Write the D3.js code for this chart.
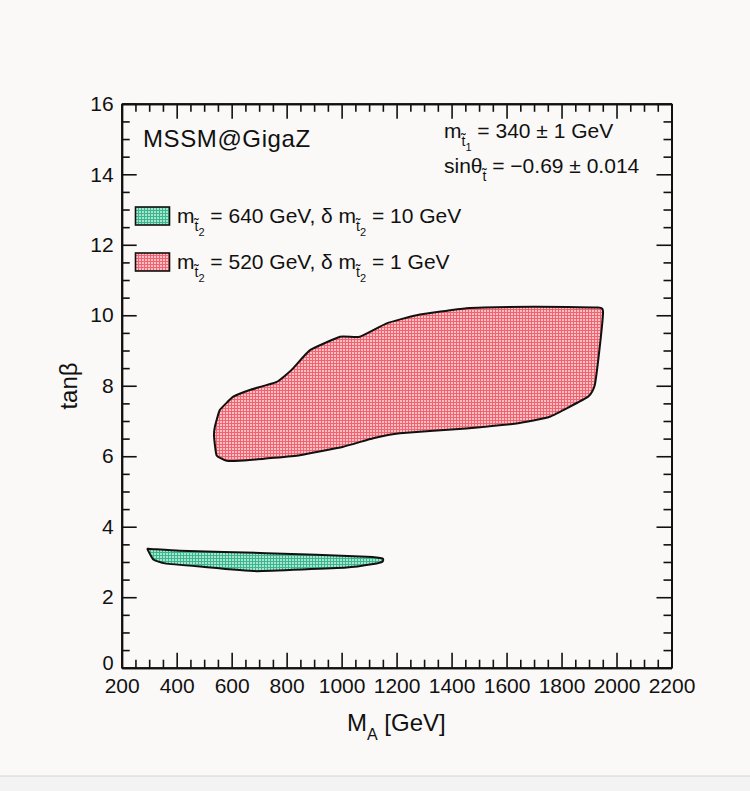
<!DOCTYPE html>
<html><head><meta charset="utf-8">
<script src="https://cdn.jsdelivr.net/npm/d3@7"></script>
<style>
body{margin:0;background:#faf9f7;}
svg{display:block;}
text{font-family:"Liberation Sans",Arial,Helvetica,sans-serif;fill:#111;}
</style></head>
<body><svg id="c" width="750" height="791"></svg>
<script>
// ---- data ----
const xDomain = [200, 2200];
const yDomain = [0, 16];
const xMajorTicks = [200,400,600,800,1000,1200,1400,1600,1800,2000,2200];
const yMajorTicks = [0,2,4,6,8,10,12,14,16];
// region m_t2 = 520 GeV (red)
const redX = [539,557,606,666,764,818,885,994,1066,1164,1273,1454,1697,1933,1951,1939,1921,1897,1757,1636,1454,1212,1115,1006,848,666,582,545,536];
const redY = [6.84,7.31,7.69,7.88,8.11,8.45,9.01,9.39,9.39,9.77,10.0,10.2,10.24,10.22,10.1,9.1,8.02,7.69,7.12,6.93,6.79,6.65,6.51,6.27,6.03,5.89,5.87,6.03,6.55];
// region m_t2 = 640 GeV (green)
const greenX = [294,315,357,485,691,1018,1115,1149,1149,1091,727,412,303];
const greenY = [3.36,3.07,2.96,2.87,2.74,2.84,2.94,3.01,3.10,3.15,3.25,3.32,3.37];

const svg = d3.select("#c");
const L=121.7, R=671.5, T=103.8, B=667.7;
const x = d3.scaleLinear().domain(xDomain).range([L,R]);
const y = d3.scaleLinear().domain(yDomain).range([B,T]);

// bottom strip of page
svg.append("rect").attr("x",0).attr("y",776).attr("width",750).attr("height",15).attr("fill","#f3f3f3");
svg.append("line").attr("x1",0).attr("x2",750).attr("y1",776).attr("y2",776).attr("stroke","#d6d4d0").attr("stroke-width",1);

// patterns
const defs = svg.append("defs");
function pat(id, bg, dot){
  const p = defs.append("pattern").attr("id",id).attr("patternUnits","userSpaceOnUse").attr("width",3).attr("height",3);
  p.append("rect").attr("width",3).attr("height",3).attr("fill",bg);
  p.append("rect").attr("x",1).attr("y",1).attr("width",2).attr("height",2).attr("fill",dot);
}
pat("pRed","#ef6470","#fbbfc4");
pat("pGreen","#3ab58d","#a8e4ce");

const line = d3.line().x(d=>x(d[0])).y(d=>y(d[1])).curve(d3.curveCardinalClosed.tension(0.6));
const red = redX.map((v,i)=>[v,redY[i]]);
const green = greenX.map((v,i)=>[v,greenY[i]]);
svg.append("path").attr("d",line(red)).attr("fill","url(#pRed)").attr("stroke","#111").attr("stroke-width",2).attr("stroke-linejoin","round");
svg.append("path").attr("d",line(green)).attr("fill","url(#pGreen)").attr("stroke","#111").attr("stroke-width",2).attr("stroke-linejoin","round");

// axes
const xMinor = d3.range(xDomain[0], xDomain[1]+1, 50).filter(v=>v%200!==0);
const yMinor = d3.range(yDomain[0], yDomain[1]+0.01, 0.5).filter(v=>v%2!==0);
function styleAxis(g){
  g.selectAll("path.domain").attr("stroke","#111").attr("stroke-width",2);
  g.selectAll(".tick line").attr("stroke","#111").attr("stroke-width",1.6);
  g.selectAll("text").style("font-family","'Liberation Sans',Arial,sans-serif").attr("fill","#111").style("font-size","21px");
}
// bottom
svg.append("g").attr("transform",`translate(0,${B})`)
  .call(d3.axisBottom(x).tickValues(xMinor).tickSize(-8).tickSizeOuter(0).tickFormat(""))
  .call(styleAxis);
svg.append("g").attr("transform",`translate(0,${B})`)
  .call(d3.axisBottom(x).tickValues(xMajorTicks).tickSize(-15).tickSizeOuter(0).tickPadding(10).tickFormat(d3.format("d")))
  .call(styleAxis);
// top
svg.append("g").attr("transform",`translate(0,${T})`)
  .call(d3.axisTop(x).tickValues(xMinor).tickSize(-8).tickSizeOuter(0).tickFormat(""))
  .call(styleAxis);
svg.append("g").attr("transform",`translate(0,${T})`)
  .call(d3.axisTop(x).tickValues(xMajorTicks).tickSize(-15).tickSizeOuter(0).tickFormat(""))
  .call(styleAxis);
// left
svg.append("g").attr("transform",`translate(${L},0)`)
  .call(d3.axisLeft(y).tickValues(yMinor).tickSize(-8).tickSizeOuter(0).tickFormat(""))
  .call(styleAxis);
svg.append("g").attr("transform",`translate(${L},0)`)
  .call(d3.axisLeft(y).tickValues(yMajorTicks).tickSize(-15).tickSizeOuter(0).tickPadding(8).tickFormat(d3.format("d")))
  .call(styleAxis)
  .call(g=>g.selectAll(".tick").filter(d=>d===0).select("text").attr("dy","0.1em").style("font-size","20px"));
// right
svg.append("g").attr("transform",`translate(${R},0)`)
  .call(d3.axisRight(y).tickValues(yMinor).tickSize(-8).tickSizeOuter(0).tickFormat(""))
  .call(styleAxis);
svg.append("g").attr("transform",`translate(${R},0)`)
  .call(d3.axisRight(y).tickValues(yMajorTicks).tickSize(-15).tickSizeOuter(0).tickFormat(""))
  .call(styleAxis);

// axis titles
const xt = svg.append("text").attr("x",347).attr("y",731).style("font-size","24px");
xt.append("tspan").text("M");
xt.append("tspan").attr("dy",9).style("font-size","16px").text("A");
xt.append("tspan").attr("dy",-9).text(" [GeV]");

svg.append("text").attr("transform","translate(77,386) rotate(-90)").attr("text-anchor","middle")
  .style("font-size","24px").text("tanβ");

// labels
svg.append("text").attr("x",143).attr("y",147).style("font-size","24px").style("letter-spacing","0.6px").text("MSSM@GigaZ");

function stopLabel(g, xx, yy, sub, rest){
  const t = g.append("text").attr("x",xx).attr("y",yy).style("font-size","21px");
  t.append("tspan").text("m");
  t.append("tspan").attr("dy",8).style("font-size","14px").text("t\u0303");
  t.append("tspan").attr("dy",5).style("font-size","11px").text(sub);
  t.append("tspan").attr("dy",-13).text(rest);
  return t;
}
// top right annotations
stopLabel(svg, 444, 138, "1", " = 340 ± 1 GeV");
const s2 = svg.append("text").attr("x",444).attr("y",173).style("font-size","21px");
s2.append("tspan").text("sinθ");
s2.append("tspan").attr("dy",8).style("font-size","14px").text("t\u0303");
s2.append("tspan").attr("dy",-8).text(" = −0.69 ± 0.014");

// legend
const legend = [
  {fill:"url(#pGreen)", mass:"640", dm:"10", y:223},
  {fill:"url(#pRed)", mass:"520", dm:"1", y:269}
];
legend.forEach(d=>{
  svg.append("rect").attr("x",135.5).attr("y",d.y-16).attr("width",34).attr("height",18)
    .attr("fill",d.fill).attr("stroke","#111").attr("stroke-width",1.6);
  const t = svg.append("text").attr("x",177).attr("y",d.y).style("font-size","21px");
  t.append("tspan").text("m");
  t.append("tspan").attr("dy",8).style("font-size","14px").text("t\u0303");
  t.append("tspan").attr("dy",5).style("font-size","11px").text("2");
  t.append("tspan").attr("dy",-13).text(` = ${d.mass} GeV, δ m`);
  t.append("tspan").attr("dy",8).style("font-size","14px").text("t\u0303");
  t.append("tspan").attr("dy",5).style("font-size","11px").text("2");
  t.append("tspan").attr("dy",-13).text(` = ${d.dm} GeV`);
});
</script></body></html>
